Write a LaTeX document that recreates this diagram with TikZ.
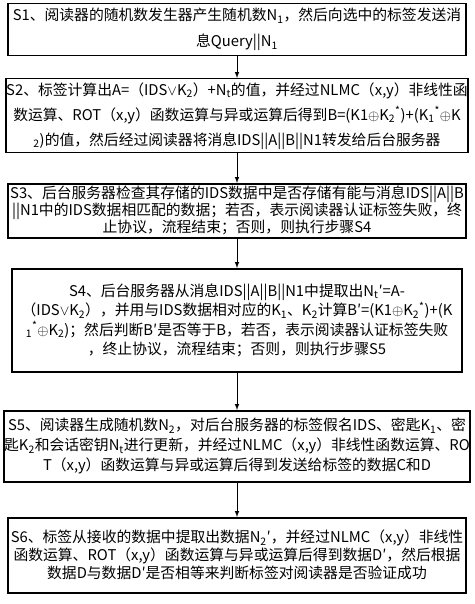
\documentclass[tikz,border=0pt]{standalone}
\usepackage{fontspec}
\setmainfont{Noto Sans CJK SC}
\newcommand{\subs}[1]{\textsubscript{#1}}
\newcommand{\sups}[1]{\textsuperscript{#1}}
\tikzset{
  stepbox/.style={draw, line width=1.5pt, align=center, anchor=north,
    minimum width=458pt, inner sep=0pt},
}

\begin{document}
\begin{tikzpicture}[x=1pt,y=1pt,>=latex]
  \useasboundingbox (0,0) rectangle (474,-604);
  % steps
  \node[stepbox,minimum height=52pt,font=\fontsize{14.8}{26}\selectfont] (s1) at (237,-3)
    {S1、阅读器的随机数发生器产生随机数N\subs{1}，然后向选中的标签发送消\\
     息Query||N\subs{1}};
  \node[stepbox,minimum height=74pt,font=\fontsize{14.8}{25}\selectfont] (s2) at (237,-78)
    {S2、标签计算出A=（IDS$\vee$K\subs{2}）+N\subs{t}的值，并经过NLMC（x,y）非线性函\\
     数运算、ROT（x,y）函数运算与异或运算后得到B=(K1$\oplus$K\subs{2}\sups{*})+(K\subs{1}\sups{*}$\oplus$K\\
     \subs{2})的值，然后经过阅读器将消息IDS||A||B||N1转发给后台服务器};
  \node[stepbox,minimum height=54pt,font=\fontsize{14.8}{17}\selectfont] (s3) at (237,-183)
    {S3、后台服务器检查其存储的IDS数据中是否存储有能与消息IDS||A||B\\
     ||N1中的IDS数据相匹配的数据；若否，表示阅读器认证标签失败，终\\
     止协议，流程结束；否则，则执行步骤S4};
  \node[stepbox,minimum width=450pt,minimum height=103pt,font=\fontsize{14.8}{19.5}\selectfont] (s4) at (237,-268)
    {S4、后台服务器从消息IDS||A||B||N1中提取出N\subs{t}′=A-\\
     （IDS$\vee$K\subs{2}），并用与IDS数据相对应的K\subs{1}、K\subs{2}计算B′=(K1$\oplus$K\subs{2}\sups{*})+(K\\
     \subs{1}\sups{*}$\oplus$K\subs{2})；然后判断B′是否等于B，若否，表示阅读器认证标签失败\\
     ，终止协议，流程结束；否则，则执行步骤S5};
  \node[stepbox,minimum height=71pt,font=\fontsize{14.8}{20}\selectfont] (s5) at (237,-410)
    {S5、阅读器生成随机数N\subs{2}，对后台服务器的标签假名IDS、密匙K\subs{1}、密\\
     匙K\subs{2}和会话密钥N\subs{t}进行更新，并经过NLMC（x,y）非线性函数运算、RO\\
     T（x,y）函数运算与异或运算后得到发送给标签的数据C和D};
  \node[stepbox,minimum height=75pt,font=\fontsize{14.8}{18}\selectfont] (s6) at (237,-517)
    {S6、标签从接收的数据中提取出数据N\subs{2}′，并经过NLMC（x,y）非线性\\
     函数运算、ROT（x,y）函数运算与异或运算后得到数据D′，然后根据\\
     数据D与数据D′是否相等来判断标签对阅读器是否验证成功};
  % arrows
  \draw[->,line width=1pt] (s1) -- (s2);
  \draw[->,line width=1pt] (s2) -- (s3);
  \draw[->,line width=1pt] (s3) -- (s4);
  \draw[->,line width=1pt] (s4) -- (s5);
  \draw[->,line width=1pt] (s5) -- (s6);
\end{tikzpicture}
\end{document}
